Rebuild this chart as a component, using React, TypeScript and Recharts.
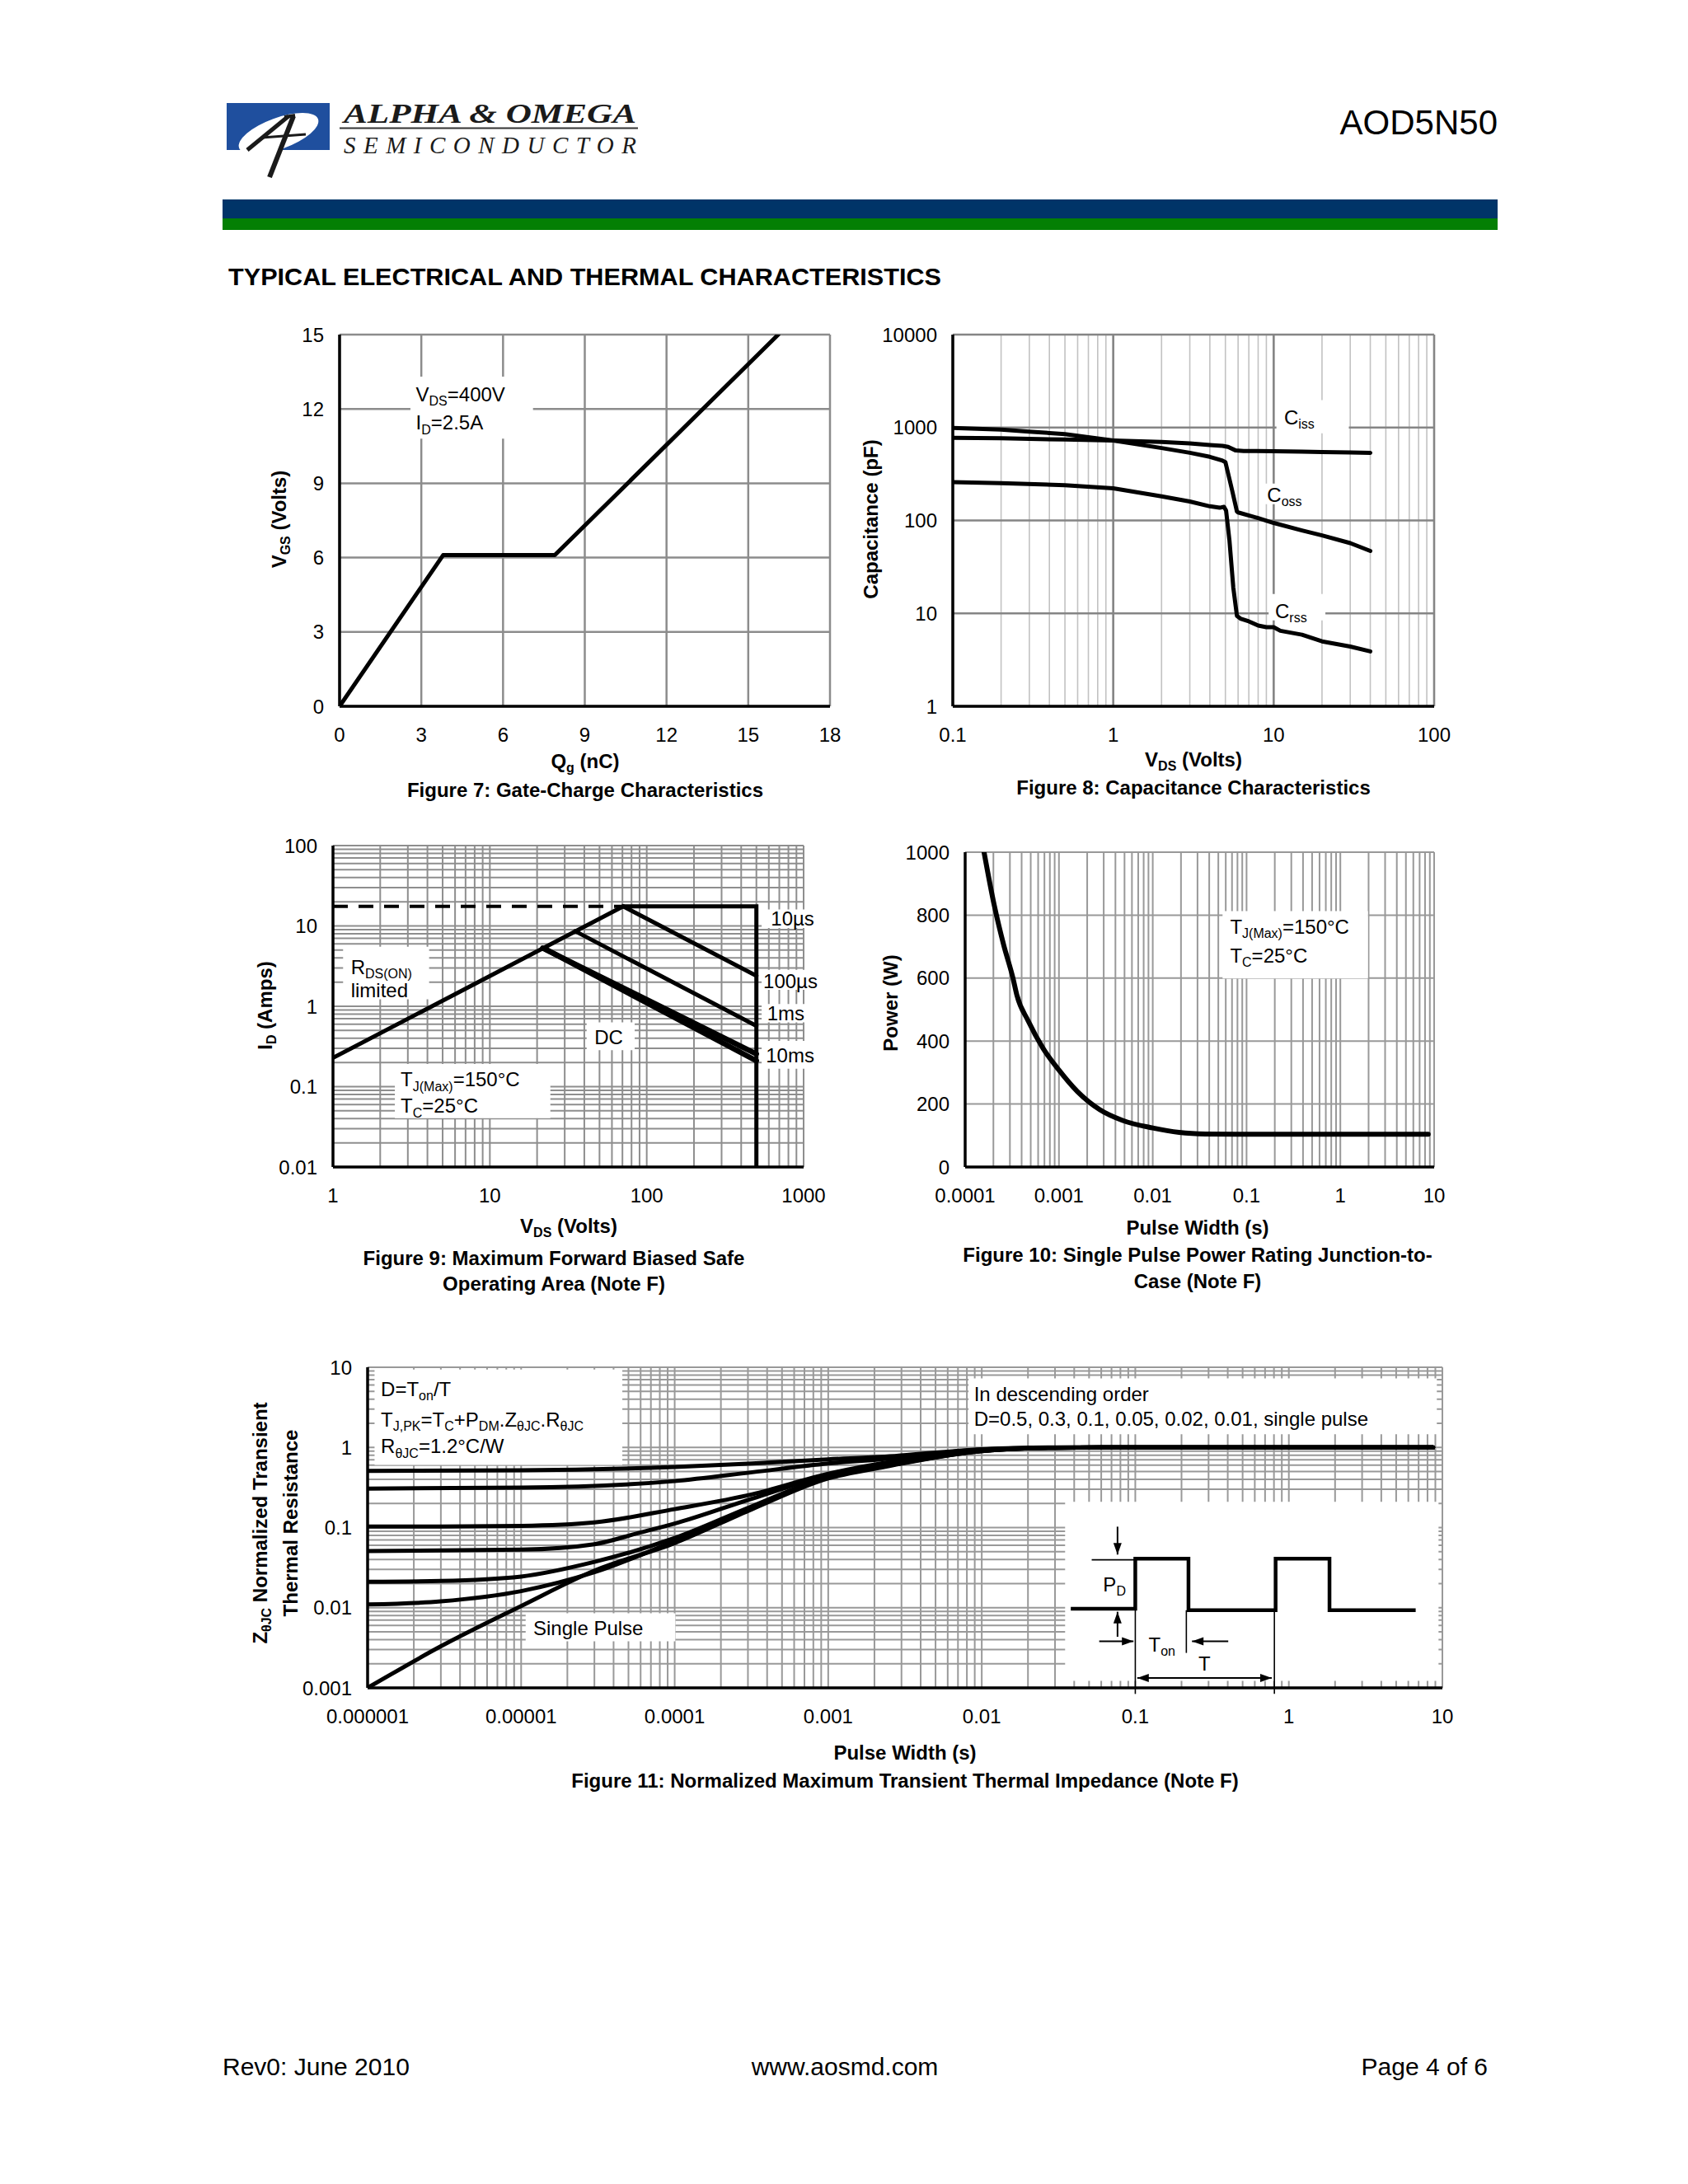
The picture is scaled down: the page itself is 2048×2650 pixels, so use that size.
import React from 'react';
import { LineChart, Line, XAxis, YAxis, CartesianGrid, ReferenceArea, ReferenceDot, ReferenceLine } from 'recharts';

const FONT = '"Liberation Sans", Arial, Helvetica, sans-serif';
const SERIF = '"Liberation Serif", "Times New Roman", Times, serif';

/* ---------------- Figure 7 : gate charge ---------------- */
const FIG7_X_TICKS = [0, 3, 6, 9, 12, 15, 18];
const FIG7_Y_TICKS = [0, 3, 6, 9, 12, 15];
const FIG7_VGS = [
  { x: 0, y: 0 },
  { x: 3.8, y: 6.1 },
  { x: 7.9, y: 6.1 },
  { x: 16.1, y: 15 },
];

/* ---------------- Figure 8 : capacitance ---------------- */
const FIG8_X_MAJOR = [0.1, 1, 10, 100];
const FIG8_X_LABELS = ['0.1', '1', '10', '100'];
const FIG8_Y_MAJOR = [1, 10, 100, 1000, 10000];
const FIG8_Y_LABELS = ['1', '10', '100', '1000', '10000'];
const FIG8_CISS = [
  { x: 0.1, y: 773 }, { x: 0.2, y: 765 }, { x: 0.5, y: 743 }, { x: 1, y: 726 }, { x: 2, y: 699 },
  { x: 3, y: 676 }, { x: 4, y: 648 }, { x: 4.8, y: 635 }, { x: 5.2, y: 618 }, { x: 5.8, y: 566 },
  { x: 6.5, y: 560 }, { x: 10, y: 557 }, { x: 15, y: 550 }, { x: 20, y: 545 }, { x: 30, y: 540 }, { x: 40, y: 535 },
];
const FIG8_COSS = [
  { x: 0.1, y: 990 }, { x: 0.2, y: 950 }, { x: 0.3, y: 905 }, { x: 0.5, y: 850 }, { x: 1, y: 726 },
  { x: 2, y: 602 }, { x: 3, y: 535 }, { x: 4, y: 484 }, { x: 4.8, y: 440 }, { x: 5.0, y: 425 },
  { x: 5.5, y: 213 }, { x: 5.9, y: 125 }, { x: 6, y: 122 }, { x: 8, y: 106 }, { x: 10, y: 94 },
  { x: 15, y: 78 }, { x: 20, y: 69 }, { x: 30, y: 57 }, { x: 40, y: 47 },
];
const FIG8_CRSS = [
  { x: 0.1, y: 259 }, { x: 0.2, y: 252 }, { x: 0.5, y: 240 }, { x: 1, y: 222 }, { x: 2, y: 182 },
  { x: 3, y: 160 }, { x: 4, y: 142 }, { x: 4.6, y: 137 }, { x: 4.9, y: 140 }, { x: 5.05, y: 128 },
  { x: 5.3, y: 61 }, { x: 5.6, y: 19 }, { x: 5.9, y: 9.4 }, { x: 6.2, y: 8.8 }, { x: 7, y: 8.2 },
  { x: 8, y: 7.4 }, { x: 9, y: 7.1 }, { x: 10, y: 7.1 }, { x: 11, y: 6.5 }, { x: 15, y: 5.9 },
  { x: 20, y: 5.0 }, { x: 30, y: 4.4 }, { x: 40, y: 3.9 },
];

/* ---------------- Figure 9 : SOA ---------------- */
const FIG9_X_MAJOR = [1, 10, 100, 1000];
const FIG9_X_LABELS = ['1', '10', '100', '1000'];
const FIG9_Y_MAJOR = [0.01, 0.1, 1, 10, 100];
const FIG9_Y_LABELS = ['0.01', '0.1', '1', '10', '100'];
const FIG9_RDS_LIMIT = [{ x: 1, y: 0.228 }, { x: 70.8, y: 17.5 }];
const FIG9_CURRENT_LIMIT = [{ x: 1, y: 17.5 }, { x: 70.8, y: 17.5 }];
const FIG9_10US = [{ x: 70.8, y: 17.5 }, { x: 500, y: 17.5 }, { x: 500, y: 0.01 }];
const FIG9_100US = [{ x: 70.8, y: 17.5 }, { x: 500, y: 2.4 }];
const FIG9_1MS = [{ x: 35, y: 8.6 }, { x: 500, y: 0.57 }];
const FIG9_10MS = [{ x: 21.7, y: 5.3 }, { x: 500, y: 0.255 }];
const FIG9_DC = [{ x: 23, y: 5.05 }, { x: 500, y: 0.21 }];

/* ---------------- Figure 10 : single pulse power ---------------- */
const FIG10_X_MAJOR = [0.0001, 0.001, 0.01, 0.1, 1, 10];
const FIG10_X_LABELS = ['0.0001', '0.001', '0.01', '0.1', '1', '10'];
const FIG10_Y_TICKS = [0, 200, 400, 600, 800, 1000];
const FIG10_POWER = [
  { x: 0.000159, y: 1000 }, { x: 0.000204, y: 832 }, { x: 0.000257, y: 706 }, { x: 0.000324, y: 599 },
  { x: 0.000356, y: 546 }, { x: 0.00047, y: 464 }, { x: 0.00068, y: 376 }, { x: 0.001, y: 308 },
  { x: 0.00157, y: 240 }, { x: 0.00273, y: 182 }, { x: 0.00477, y: 148 }, { x: 0.01, y: 124 },
  { x: 0.0191, y: 110 }, { x: 0.0366, y: 105 }, { x: 0.1, y: 104 }, { x: 8.65, y: 104 },
];

/* ---------------- Figure 11 : transient thermal impedance ---------------- */
const FIG11_X_MAJOR = [0.000001, 0.00001, 0.0001, 0.001, 0.01, 0.1, 1, 10];
const FIG11_X_LABELS = ['0.000001', '0.00001', '0.0001', '0.001', '0.01', '0.1', '1', '10'];
const FIG11_Y_MAJOR = [0.001, 0.01, 0.1, 1, 10];
const FIG11_Y_LABELS = ['0.001', '0.01', '0.1', '1', '10'];
const FIG11_D050 = [
  { x: 1e-6, y: 0.51 }, { x: 1e-5, y: 0.518 }, { x: 1e-4, y: 0.57 }, { x: 3.2e-4, y: 0.63 }, { x: 1e-3, y: 0.71 },
  { x: 2.2e-3, y: 0.76 }, { x: 1e-2, y: 0.95 }, { x: 3e-2, y: 1.0 }, { x: 0.1, y: 1.0 }, { x: 8.7, y: 1.0 },
];
const FIG11_D030 = [
  { x: 1e-6, y: 0.307 }, { x: 1e-5, y: 0.315 }, { x: 1e-4, y: 0.38 }, { x: 3.2e-4, y: 0.49 }, { x: 1e-3, y: 0.63 },
  { x: 2.2e-3, y: 0.71 }, { x: 1e-2, y: 0.94 }, { x: 3e-2, y: 0.995 }, { x: 0.1, y: 1.0 }, { x: 8.7, y: 1.0 },
];
const FIG11_D010 = [
  { x: 1e-6, y: 0.103 }, { x: 3e-6, y: 0.103 }, { x: 1e-5, y: 0.105 }, { x: 3e-5, y: 0.116 }, { x: 1e-4, y: 0.17 },
  { x: 3.2e-4, y: 0.26 }, { x: 1e-3, y: 0.47 }, { x: 2.2e-3, y: 0.63 }, { x: 1e-2, y: 0.92 }, { x: 3e-2, y: 0.99 },
  { x: 0.1, y: 1.0 }, { x: 8.7, y: 1.0 },
];
const FIG11_D005 = [
  { x: 1e-6, y: 0.051 }, { x: 1e-5, y: 0.053 }, { x: 3e-5, y: 0.062 }, { x: 6e-5, y: 0.087 }, { x: 1e-4, y: 0.112 },
  { x: 3.2e-4, y: 0.23 }, { x: 1e-3, y: 0.45 }, { x: 2.2e-3, y: 0.6 }, { x: 1e-2, y: 0.91 }, { x: 3e-2, y: 0.99 },
  { x: 0.1, y: 1.0 }, { x: 8.7, y: 1.0 },
];
const FIG11_D002 = [
  { x: 1e-6, y: 0.0211 }, { x: 3e-6, y: 0.0216 }, { x: 1e-5, y: 0.0245 }, { x: 3e-5, y: 0.0373 }, { x: 1e-4, y: 0.074 },
  { x: 3.2e-4, y: 0.185 }, { x: 1e-3, y: 0.43 }, { x: 2.2e-3, y: 0.58 }, { x: 1e-2, y: 0.905 }, { x: 3e-2, y: 0.99 },
  { x: 0.1, y: 1.0 }, { x: 8.7, y: 1.0 },
];
const FIG11_D001 = [
  { x: 1e-6, y: 0.011 }, { x: 3e-6, y: 0.012 }, { x: 1e-5, y: 0.0161 }, { x: 3e-5, y: 0.0277 }, { x: 1e-4, y: 0.068 },
  { x: 3.2e-4, y: 0.177 }, { x: 1e-3, y: 0.42 }, { x: 2.2e-3, y: 0.57 }, { x: 1e-2, y: 0.9 }, { x: 3e-2, y: 0.99 },
  { x: 0.1, y: 1.0 }, { x: 8.7, y: 1.0 },
];
const FIG11_SINGLE = [
  { x: 1e-6, y: 0.001 }, { x: 3e-6, y: 0.0033 }, { x: 1e-5, y: 0.0105 }, { x: 3e-5, y: 0.029 }, { x: 1e-4, y: 0.064 },
  { x: 3.2e-4, y: 0.17 }, { x: 1e-3, y: 0.41 }, { x: 2.2e-3, y: 0.56 }, { x: 1e-2, y: 0.9 }, { x: 3e-2, y: 0.99 },
  { x: 0.1, y: 1.0 }, { x: 8.7, y: 1.0 },
];
/* inset pulse diagram drawn in the chart's own coordinates */
const FIG11_PULSE_WAVE = [
  { x: 0.038, y: 0.0097 }, { x: 0.0985, y: 0.0097 }, { x: 0.1, y: 0.0097 }, { x: 0.1, y: 0.041 },
  { x: 0.222, y: 0.041 }, { x: 0.222, y: 0.0093 }, { x: 0.82, y: 0.0093 }, { x: 0.82, y: 0.041 },
  { x: 1.84, y: 0.041 }, { x: 1.84, y: 0.0093 }, { x: 6.7, y: 0.0093 },
];

/* ---------------- layout helpers ---------------- */
const PAD_L = 120;
const PAD_R = 70;
const PAD_T = 20;
const PAD_B = 60;

function logTicks(majors: number[]) {
  const out: number[] = [];
  majors.forEach((m, i) => {
    out.push(m);
    if (i < majors.length - 1) for (let k = 2; k <= 9; k++) out.push(+(m * k).toPrecision(6));
  });
  return out;
}
function labelFor(majors: number[], labels: string[]) {
  return (v: number) => {
    const i = majors.findIndex((m) => Math.abs(v - m) <= Math.abs(m) * 1e-6);
    return i >= 0 ? labels[i] : '';
  };
}

function parseRich(s: string) {
  const parts: { t: string; sub: boolean }[] = [];
  const re = /_\{([^}]*)\}/g;
  let last = 0;
  let m: RegExpExecArray | null;
  while ((m = re.exec(s))) {
    if (m.index > last) parts.push({ t: s.slice(last, m.index), sub: false });
    parts.push({ t: m[1], sub: true });
    last = re.lastIndex;
  }
  if (last < s.length) parts.push({ t: s.slice(last), sub: false });
  return parts;
}

function SvgRich({ x, y, text, size = 24, anchor = 'start', weight = 400 }: any) {
  const parts = parseRich(text);
  const subSize = Math.round(size * 0.68);
  const shift = size * 0.22;
  let cur = 0;
  const spans = parts.map((p, i) => {
    const target = p.sub ? shift : 0;
    const dy = target - cur;
    cur = target;
    return (
      <tspan key={i} dy={dy} fontSize={p.sub ? subSize : size}>
        {p.t}
      </tspan>
    );
  });
  return (
    <text x={x} y={y} fontSize={size} fontFamily={FONT} fontWeight={weight} textAnchor={anchor} fill="#000">
      {spans}
    </text>
  );
}

function HText({ cx, cy, text, size = 24, weight = 700 }: any) {
  return <SvgRich x={cx} y={cy + size * 0.36} text={text} size={size} anchor="middle" weight={weight} />;
}
function VText({ cx, cy, text, size = 24, weight = 700 }: any) {
  return (
    <g transform={`translate(${cx},${cy}) rotate(-90)`}>
      <SvgRich x={0} y={size * 0.36} text={text} size={size} anchor="middle" weight={weight} />
    </g>
  );
}

function note(key: string, x: number, y: number, text: string, size = 24) {
  return (
    <ReferenceDot
      key={key}
      x={x}
      y={y}
      r={0}
      ifOverflow="visible"
      shape={(p: any) => <SvgRich x={p.cx} y={p.cy + size * 0.36} text={text} size={size} />}
    />
  );
}
function box(key: string, x1: number, x2: number, y1: number, y2: number) {
  return (
    <ReferenceArea key={key} x1={x1} x2={x2} y1={y1} y2={y2} fill="#fff" fillOpacity={1} stroke="none" ifOverflow="visible" />
  );
}
function arrowShape(both: boolean, width = 2) {
  return (p: any) => {
    const { x1, y1, x2, y2 } = p;
    const head = (xa: number, ya: number, xb: number, yb: number) => {
      const ang = Math.atan2(yb - ya, xb - xa);
      const L = 14;
      const w = 5;
      const bx = xb - L * Math.cos(ang);
      const by = yb - L * Math.sin(ang);
      const px = -Math.sin(ang) * w;
      const py = Math.cos(ang) * w;
      return <polygon points={`${xb},${yb} ${bx + px},${by + py} ${bx - px},${by - py}`} fill="#000" />;
    };
    return (
      <g>
        <line x1={x1} y1={y1} x2={x2} y2={y2} stroke="#000" strokeWidth={width} />
        {head(x1, y1, x2, y2)}
        {both ? head(x2, y2, x1, y1) : null}
      </g>
    );
  };
}

const TICK = { fill: '#000', fontSize: 24, fontFamily: FONT };
const AXIS_LINE = { stroke: '#000', strokeWidth: 3.5 };
const XC: any = {
  type: 'number', dataKey: 'x', height: PAD_B, interval: 0, allowDataOverflow: true,
  tickLine: false, tickSize: 0, tickMargin: 26, axisLine: AXIS_LINE, tick: TICK,
};
const YC: any = {
  type: 'number', width: PAD_L, interval: 0, allowDataOverflow: true,
  tickLine: false, tickSize: 0, tickMargin: 19, axisLine: AXIS_LINE, tick: TICK,
};
const LINE: any = {
  dataKey: 'y', stroke: '#000', dot: false, activeDot: false, isAnimationActive: false,
  strokeLinejoin: 'round', strokeLinecap: 'round',
};

function ChartBox({ left, top, width, height, children }: any) {
  return (
    <div style={{ position: 'absolute', left: left - PAD_L, top: top - PAD_T }}>
      <LineChart
        width={width + PAD_L + PAD_R}
        height={height + PAD_T + PAD_B}
        margin={{ top: PAD_T, right: PAD_R, bottom: 0, left: 0 }}
      >
        {children}
      </LineChart>
    </div>
  );
}

/* ---------------- charts ---------------- */
function Fig7() {
  return (
    <ChartBox left={412} top={406} width={595} height={451}>
      <CartesianGrid stroke="#8c8c8c" strokeWidth={2.5} />
      {box('b1', 2.6, 7.1, 10.8, 13.3)}
      <XAxis {...XC} domain={[0, 18]} ticks={FIG7_X_TICKS} />
      <YAxis {...YC} domain={[0, 15]} ticks={FIG7_Y_TICKS} />
      <Line {...LINE} type="linear" data={FIG7_VGS} strokeWidth={5} />
      {note('n1', 2.8, 12.6, 'V_{DS}=400V')}
      {note('n2', 2.8, 11.45, 'I_{D}=2.5A')}
    </ChartBox>
  );
}

function Fig8() {
  const xt = logTicks(FIG8_X_MAJOR);
  return (
    <ChartBox left={1156} top={406} width={584} height={451}>
      <CartesianGrid stroke="#c2c2c2" strokeWidth={1.6} horizontal={false} />
      <CartesianGrid stroke="#858585" strokeWidth={2.6} verticalValues={FIG8_X_MAJOR} />
      {box('b1', 10.4, 29.4, 869, 1972)}
      {box('b2', 8.8, 17, 150, 250)}
      {box('b3', 9.3, 21, 8.4, 16.2)}
      <XAxis {...XC} scale="log" domain={[0.1, 100]} ticks={xt} tickFormatter={labelFor(FIG8_X_MAJOR, FIG8_X_LABELS)} />
      <YAxis {...YC} scale="log" domain={[1, 10000]} ticks={FIG8_Y_MAJOR} tickFormatter={labelFor(FIG8_Y_MAJOR, FIG8_Y_LABELS)} />
      <Line {...LINE} type="linear" data={FIG8_CISS} strokeWidth={5} />
      <Line {...LINE} type="linear" data={FIG8_COSS} strokeWidth={5} />
      <Line {...LINE} type="linear" data={FIG8_CRSS} strokeWidth={5} />
      {note('n1', 11.6, 1283, 'C_{iss}')}
      {note('n2', 9.1, 190, 'C_{oss}')}
      {note('n3', 10.2, 10.6, 'C_{rss}')}
    </ChartBox>
  );
}

function Fig9() {
  const xt = logTicks(FIG9_X_MAJOR);
  const yt = logTicks(FIG9_Y_MAJOR);
  return (
    <ChartBox left={404} top={1026} width={571} height={390}>
      <CartesianGrid stroke="#8e8e8e" strokeWidth={2} />
      {box('b1', 1.16, 4.1, 1.22, 5.5)}
      {box('b2', 2.48, 24.3, 0.0405, 0.191)}
      {box('b3', 41.4, 83.8, 0.284, 0.63)}
      {box('b4', 540, 1190, 9.4, 16)}
      {box('b5', 540, 1210, 1.6, 2.84)}
      {box('b6', 540, 1100, 0.63, 1.07)}
      {box('b7', 540, 1190, 0.167, 0.37)}
      <XAxis {...XC} scale="log" domain={[1, 1000]} ticks={xt} tickFormatter={labelFor(FIG9_X_MAJOR, FIG9_X_LABELS)} />
      <YAxis {...YC} scale="log" domain={[0.01, 100]} ticks={yt} tickFormatter={labelFor(FIG9_Y_MAJOR, FIG9_Y_LABELS)} />
      <Line {...LINE} type="linear" data={FIG9_CURRENT_LIMIT} strokeWidth={4} strokeDasharray="18 13" strokeLinecap="butt" />
      <Line {...LINE} type="linear" data={FIG9_RDS_LIMIT} strokeWidth={5} />
      <Line {...LINE} type="linear" data={FIG9_10US} strokeWidth={5} strokeLinejoin="miter" />
      <Line {...LINE} type="linear" data={FIG9_100US} strokeWidth={5} />
      <Line {...LINE} type="linear" data={FIG9_1MS} strokeWidth={5} />
      <Line {...LINE} type="linear" data={FIG9_10MS} strokeWidth={6.5} />
      <Line {...LINE} type="linear" data={FIG9_DC} strokeWidth={6.5} />
      {note('n1', 1.3, 3.1, 'R_{DS(ON)}')}
      {note('n2', 1.3, 1.6, 'limited')}
      {note('n3', 2.7, 0.123, 'T_{J(Max)}=150°C')}
      {note('n4', 2.7, 0.0578, 'T_{C}=25°C')}
      {note('n5', 46.4, 0.41, 'DC')}
      {note('n6', 619, 12.3, '10µs')}
      {note('n7', 553, 2.08, '100µs')}
      {note('n8', 585, 0.82, '1ms')}
      {note('n9', 575, 0.249, '10ms')}
    </ChartBox>
  );
}

function Fig10() {
  const xt = logTicks(FIG10_X_MAJOR);
  return (
    <ChartBox left={1171} top={1034} width={569} height={382}>
      <CartesianGrid stroke="#999999" strokeWidth={2} />
      {box('b1', 0.0555, 1.97, 599, 813)}
      <XAxis {...XC} scale="log" domain={[0.0001, 10]} ticks={xt} tickFormatter={labelFor(FIG10_X_MAJOR, FIG10_X_LABELS)} />
      <YAxis {...YC} domain={[0, 1000]} ticks={FIG10_Y_TICKS} />
      <Line {...LINE} type="monotone" data={FIG10_POWER} strokeWidth={6} />
      {note('n1', 0.0667, 764, 'T_{J(Max)}=150°C')}
      {note('n2', 0.0667, 672, 'T_{C}=25°C')}
    </ChartBox>
  );
}

function Fig11() {
  const xt = logTicks(FIG11_X_MAJOR);
  const yt = logTicks(FIG11_Y_MAJOR);
  const thin = { stroke: '#000', strokeWidth: 1.6, ifOverflow: 'visible' as const };
  return (
    <ChartBox left={446} top={1659} width={1304} height={389}>
      <CartesianGrid stroke="#999999" strokeWidth={2} />
      {box('b1', 1.11e-6, 4.56e-5, 0.603, 9.35)}
      {box('b2', 1.07e-5, 1.01e-4, 0.0038, 0.0085)}
      {box('b3', 0.0082, 9.2, 1.46, 7.26)}
      {box('b4', 0.0349, 9.44, 0.00122, 0.21)}
      <XAxis {...XC} scale="log" domain={[0.000001, 10]} ticks={xt} tickFormatter={labelFor(FIG11_X_MAJOR, FIG11_X_LABELS)} />
      <YAxis {...YC} scale="log" domain={[0.001, 10]} ticks={yt} tickFormatter={labelFor(FIG11_Y_MAJOR, FIG11_Y_LABELS)} />
      <Line {...LINE} type="monotone" data={FIG11_D050} strokeWidth={5} />
      <Line {...LINE} type="monotone" data={FIG11_D030} strokeWidth={5} />
      <Line {...LINE} type="monotone" data={FIG11_D010} strokeWidth={5} />
      <Line {...LINE} type="monotone" data={FIG11_D005} strokeWidth={5} />
      <Line {...LINE} type="monotone" data={FIG11_D002} strokeWidth={5} />
      <Line {...LINE} type="monotone" data={FIG11_D001} strokeWidth={5} />
      <Line {...LINE} type="monotone" data={FIG11_SINGLE} strokeWidth={5} />
      <Line {...LINE} type="linear" data={FIG11_PULSE_WAVE} strokeWidth={4.5} strokeLinejoin="miter" strokeLinecap="butt" />
      <ReferenceLine {...thin} segment={[{ x: 0.052, y: 0.0396 }, { x: 0.1, y: 0.0396 }]} />
      <ReferenceLine {...thin} segment={[{ x: 0.1, y: 0.0097 }, { x: 0.1, y: 0.00084 }]} />
      <ReferenceLine {...thin} segment={[{ x: 0.805, y: 0.0093 }, { x: 0.805, y: 0.00084 }]} />
      <ReferenceLine {...thin} segment={[{ x: 0.215, y: 0.0093 }, { x: 0.215, y: 0.00273 }]} />
      <ReferenceLine {...thin} segment={[{ x: 0.0766, y: 0.1026 }, { x: 0.0766, y: 0.046 }]} shape={arrowShape(false)} />
      <ReferenceLine {...thin} segment={[{ x: 0.0766, y: 0.00434 }, { x: 0.0766, y: 0.0089 }]} shape={arrowShape(false)} />
      <ReferenceLine {...thin} segment={[{ x: 0.0582, y: 0.00382 }, { x: 0.0973, y: 0.00382 }]} shape={arrowShape(false)} />
      <ReferenceLine {...thin} segment={[{ x: 0.403, y: 0.00382 }, { x: 0.234, y: 0.00382 }]} shape={arrowShape(false)} />
      <ReferenceLine {...thin} segment={[{ x: 0.103, y: 0.00133 }, { x: 0.774, y: 0.00133 }]} shape={arrowShape(true)} />
      {note('n1', 1.22e-6, 5.4, 'D=T_{on}/T')}
      {note('n2', 1.22e-6, 2.23, 'T_{J,PK}=T_{C}+P_{DM}.Z_{θJC}.R_{θJC}')}
      {note('n3', 1.22e-6, 1.04, 'R_{θJC}=1.2°C/W')}
      {note('n4', 1.2e-5, 0.00558, 'Single Pulse')}
      {note('n5', 0.0089, 4.64, 'In descending order')}
      {note('n6', 0.0089, 2.29, 'D=0.5, 0.3, 0.1, 0.05, 0.02, 0.01, single pulse')}
      {note('n7', 0.0617, 0.0198, 'P_{D}')}
      {note('n8', 0.122, 0.00351, 'T_{on}')}
      {note('n9', 0.258, 0.00203, 'T')}
    </ChartBox>
  );
}

/* ---------------- page decoration ---------------- */
function PageSvg() {
  return (
    <svg width={2048} height={2650} style={{ position: 'absolute', left: 0, top: 0 }}>
      <defs>
        <clipPath id="logoClip">
          <rect x={275} y={125} width={125} height={57} />
        </clipPath>
      </defs>
      {/* logo */}
      <rect x={275} y={125} width={125} height={57} fill="#1f4f9e" />
      <ellipse cx={338} cy={162} rx={51} ry={19} transform="rotate(-20 338 162)" fill="#fff" clipPath="url(#logoClip)" />
      <line x1={300} y1={182} x2={350} y2={141} stroke="#1a1a1a" strokeWidth={5} />
      <line x1={345} y1={142} x2={358} y2={140} stroke="#1a1a1a" strokeWidth={4} />
      <line x1={356} y1={141} x2={327} y2={215} stroke="#1a1a1a" strokeWidth={6} />
      <line x1={318} y1={167} x2={371} y2={163} stroke="#1a1a1a" strokeWidth={3} />
      <text x={417} y={149} fontFamily={SERIF} fontStyle="italic" fontWeight={700} fontSize={34} fill="#1a1a1a" textLength={355} lengthAdjust="spacingAndGlyphs">
        ALPHA &amp; OMEGA
      </text>
      <line x1={412} y1={155.5} x2={774} y2={155.5} stroke="#333" strokeWidth={2} />
      <text x={417} y={186} fontFamily={SERIF} fontStyle="italic" fontSize={29} fill="#1a1a1a" textLength={355} lengthAdjust="spacing">
        SEMICONDUCTOR
      </text>
      <text x={1817} y={163} fontFamily={FONT} fontSize={42} textAnchor="end" fill="#000">
        AOD5N50
      </text>
      <rect x={270} y={242} width={1547} height={23} fill="#003468" />
      <rect x={270} y={265} width={1547} height={14} fill="#047f04" />
      <text x={277} y={346} fontFamily={FONT} fontWeight={700} fontSize={30} fill="#000" textLength={865} lengthAdjust="spacingAndGlyphs">
        TYPICAL ELECTRICAL AND THERMAL CHARACTERISTICS
      </text>

      {/* Figure 7 titles */}
      <VText cx={338} cy={630} text="V_{GS} (Volts)" />
      <HText cx={710} cy={923} text="Q_{g} (nC)" />
      <HText cx={710} cy={958} text="Figure 7: Gate-Charge Characteristics" />
      {/* Figure 8 titles */}
      <VText cx={1056} cy={630} text="Capacitance (pF)" />
      <HText cx={1448} cy={921} text="V_{DS} (Volts)" />
      <HText cx={1448} cy={955} text="Figure 8: Capacitance Characteristics" />
      {/* Figure 9 titles */}
      <VText cx={321} cy={1220} text="I_{D} (Amps)" />
      <HText cx={690} cy={1487} text="V_{DS} (Volts)" />
      <HText cx={672} cy={1526} text="Figure 9: Maximum Forward Biased Safe" />
      <HText cx={672} cy={1557} text="Operating Area (Note F)" />
      {/* Figure 10 titles */}
      <VText cx={1080} cy={1217} text="Power (W)" />
      <HText cx={1453} cy={1489} text="Pulse Width (s)" />
      <HText cx={1453} cy={1522} text="Figure 10: Single Pulse Power Rating Junction-to-" />
      <HText cx={1453} cy={1554} text="Case (Note F)" />
      {/* Figure 11 titles */}
      <VText cx={315} cy={1848} text="Z_{θJC} Normalized Transient" />
      <VText cx={352} cy={1848} text="Thermal Resistance" />
      <HText cx={1098} cy={2126} text="Pulse Width (s)" />
      <HText cx={1098} cy={2160} text="Figure 11: Normalized Maximum Transient Thermal Impedance (Note F)" />

      {/* footer */}
      <text x={270} y={2518} fontFamily={FONT} fontSize={30} fill="#000">Rev0: June 2010</text>
      <text x={1025} y={2518} fontFamily={FONT} fontSize={30} fill="#000" textAnchor="middle">www.aosmd.com</text>
      <text x={1805} y={2518} fontFamily={FONT} fontSize={30} fill="#000" textAnchor="end">Page 4 of 6</text>
    </svg>
  );
}

export default function App() {
  return (
    <div style={{ position: 'absolute', left: 0, top: 0, width: 2048, height: 2650, background: '#fff', fontFamily: FONT }}>
      <PageSvg />
      <Fig7 />
      <Fig8 />
      <Fig9 />
      <Fig10 />
      <Fig11 />
    </div>
  );
}
